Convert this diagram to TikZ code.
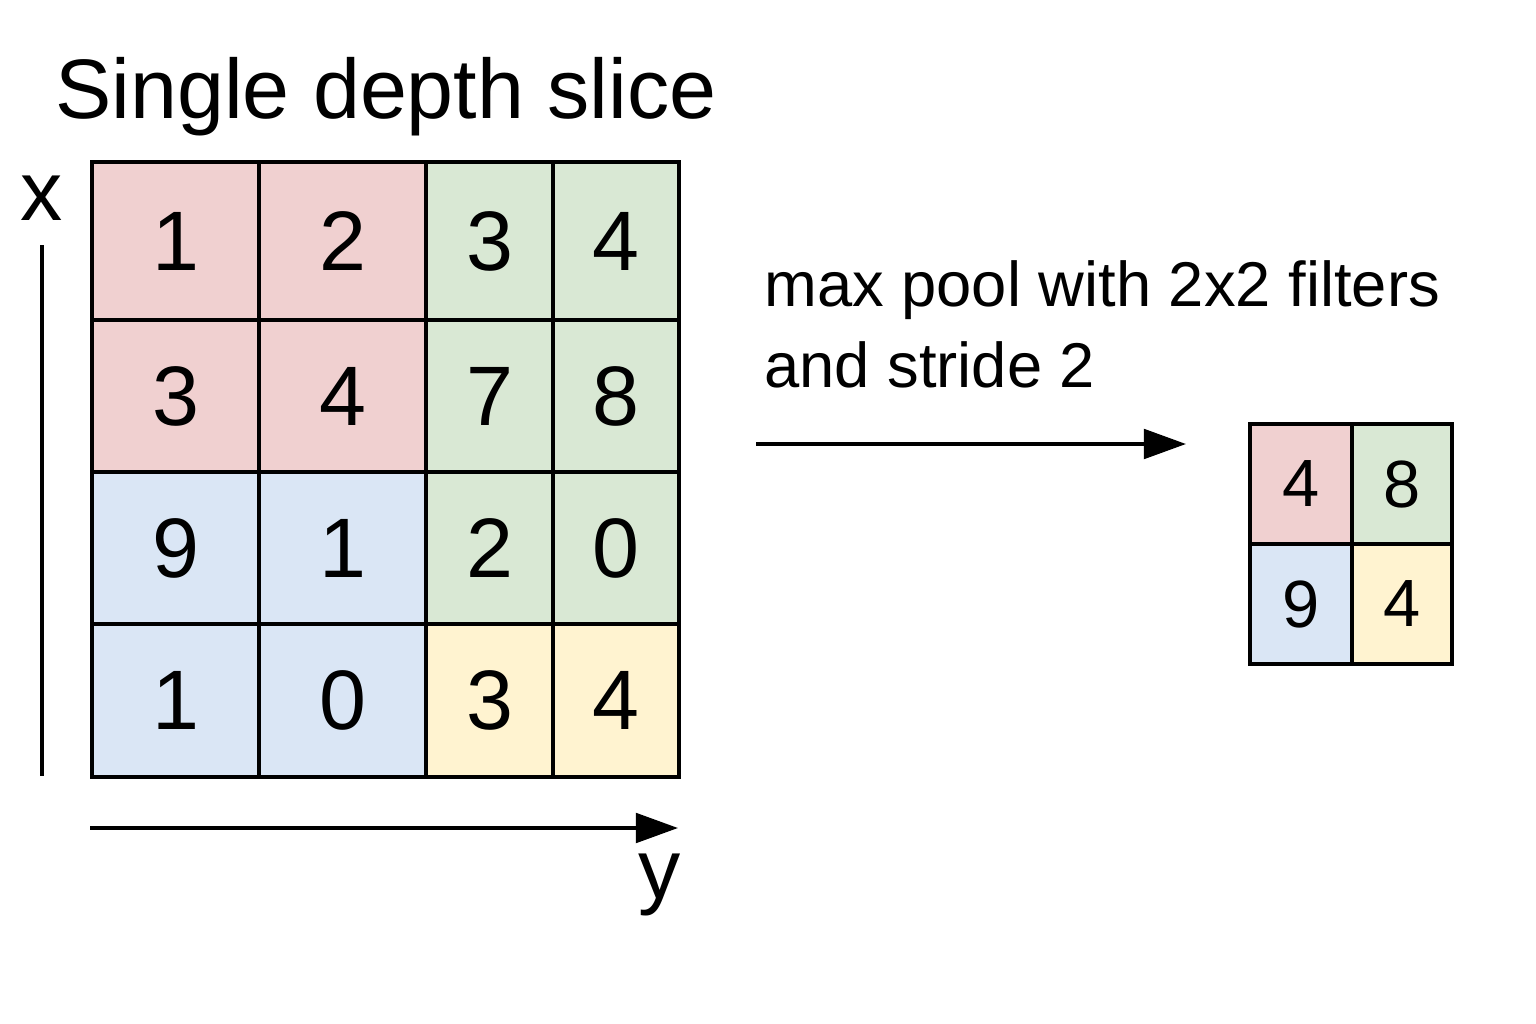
\documentclass[tikz,border=0pt]{standalone}
\usepackage{fontspec}
\setmainfont{Liberation Sans}
\usetikzlibrary{arrows.meta,calc}
\definecolor{cred}{RGB}{240,208,208}
\definecolor{cgreen}{RGB}{217,232,212}
\definecolor{cblue}{RGB}{218,230,245}
\definecolor{cyellow}{RGB}{255,243,208}
\tikzset{
  grid/.style={draw=black, line width=1.3pt},
  big/.style={font=\fontsize{24}{28}\selectfont},
  small/.style={font=\fontsize{19}{22}\selectfont},
  axis/.style={line width=1.1pt},
}
% cell: name, x1, y1, x2, y2, colour, number, style
\newcommand\gcell[8]{
  \fill[#6] (#2,#3) rectangle (#4,#5);
  \node[#8] (#1) at ($(#2,#3)!0.5!(#4,#5)$) {#7};
}

\begin{document}
\begin{tikzpicture}[x=0.01cm,y=-0.01cm]
\useasboundingbox (0,0) rectangle (1536,1024);

\node[big] (title) at (386,97) {Single depth slice};

% big slice
\gcell{a11}{92}{162}{259}{320}{cred}{1}{big};
\gcell{a12}{259}{162}{426}{320}{cred}{2}{big};
\gcell{a13}{426}{162}{553}{320}{cgreen}{3}{big};
\gcell{a14}{553}{162}{679}{320}{cgreen}{4}{big};
\gcell{a21}{92}{320}{259}{472}{cred}{3}{big};
\gcell{a22}{259}{320}{426}{472}{cred}{4}{big};
\gcell{a23}{426}{320}{553}{472}{cgreen}{7}{big};
\gcell{a24}{553}{320}{679}{472}{cgreen}{8}{big};
\gcell{a31}{92}{472}{259}{624}{cblue}{9}{big};
\gcell{a32}{259}{472}{426}{624}{cblue}{1}{big};
\gcell{a33}{426}{472}{553}{624}{cgreen}{2}{big};
\gcell{a34}{553}{472}{679}{624}{cgreen}{0}{big};
\gcell{a41}{92}{624}{259}{777}{cblue}{1}{big};
\gcell{a42}{259}{624}{426}{777}{cblue}{0}{big};
\gcell{a43}{426}{624}{553}{777}{cyellow}{3}{big};
\gcell{a44}{553}{624}{679}{777}{cyellow}{4}{big};
\draw[grid] (92,162) rectangle (679,777);
\foreach \x in {259,426,553} \draw[grid] (\x,162) -- (\x,777);
\foreach \y in {320,472,624} \draw[grid] (92,\y) -- (679,\y);

% axes
\node[big] (xl) at (42,198) {x};
\node[big] (yl) at (660,885) {y};
\coordinate (xa) at (42,245);
\coordinate (xb) at (42,776);
\draw[axis] (xa) -- (xb);
\coordinate (ya) at (90,828);
\coordinate (yb) at (678,828);
\draw[axis,-{Triangle[length=20pt*0.6,width=14pt*0.6]}] (ya) -- (yb);

% pooling
\node[font=\fontsize{18}{23}\selectfont, align=left, anchor=north west] (lbl) at (752,248)
  {max pool with 2x2 filters\\and stride 2};
\coordinate (pa) at (756,444);
\coordinate (pb) at (1186,444);
\draw[axis,-{Triangle[length=20pt*0.6,width=14pt*0.6]}] (pa) -- (pb);

% pooled output
\gcell{b11}{1250}{424}{1352}{544}{cred}{4}{small};
\gcell{b12}{1352}{424}{1452}{544}{cgreen}{8}{small};
\gcell{b21}{1250}{544}{1352}{664}{cblue}{9}{small};
\gcell{b22}{1352}{544}{1452}{664}{cyellow}{4}{small};
\draw[grid] (1250,424) rectangle (1452,664);
\draw[grid] (1352,424) -- (1352,664);
\draw[grid] (1250,544) -- (1452,544);
\end{tikzpicture}
\end{document}
